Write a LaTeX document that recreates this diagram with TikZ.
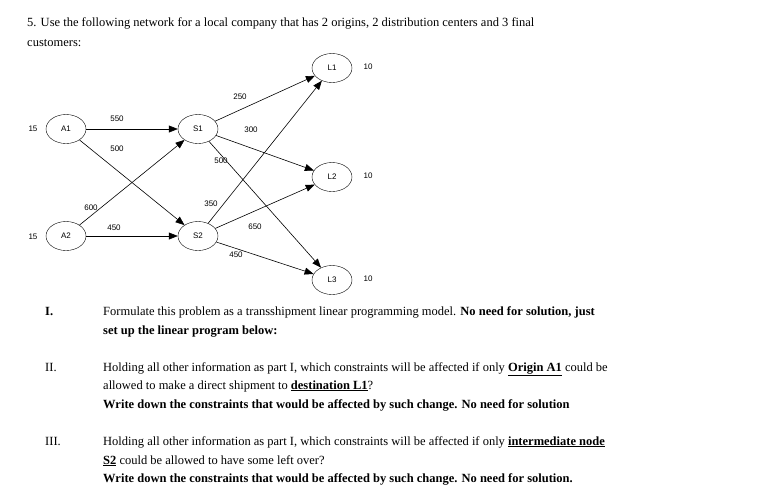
\documentclass[tikz,border=0pt]{standalone}
\usepackage{fontspec}
\setmainfont{Liberation Serif}
\newfontfamily\arial{Liberation Sans}
\usetikzlibrary{arrows.meta,shapes.geometric}
\begin{document}
\begin{tikzpicture}[x=1pt,y=-1pt,
 nd/.style={draw,ellipse,minimum width=40pt,minimum height=29pt,inner sep=0pt,font=\arial\fontsize{8}{9}\selectfont},
 lab/.style={font=\arial\fontsize{8}{9}\selectfont,inner sep=1pt},
 arr/.style={-{Triangle[length=9pt,width=7pt]},line width=0.6pt},
 tx/.style={anchor=base west,inner sep=0pt,font=\fontsize{12.5}{14}\selectfont}]
\useasboundingbox (0,0) rectangle (773,499);
\node[nd] (A1) at (66,129) {A1};
\node[nd] (A2) at (66,236) {A2};
\node[nd] (S1) at (198,129) {S1};
\node[nd] (S2) at (198,236) {S2};
\node[nd] (L1) at (332,68) {L1};
\node[nd] (L2) at (332,177) {L2};
\node[nd] (L3) at (332,280) {L3};
\node[lab] (s1) at (33,129) {15};
\node[lab] (s2) at (33,237) {15};
\node[lab] (d1) at (368,67) {10};
\node[lab] (d2) at (368,176) {10};
\node[lab] (d3) at (368,279) {10};
\draw[arr] (A1) -- (S1);
\draw[arr] (A1) -- (S2);
\draw[arr] (A2) -- (S1);
\draw[arr] (A2) -- (S2);
\draw[arr] (S1) -- (L1);
\draw[arr] (S1) -- (L2);
\draw[arr] (S1) -- (L3);
\draw[arr] (S2) -- (L1);
\draw[arr] (S2) -- (L2);
\draw[arr] (S2) -- (L3);
\node[lab] (c1) at (117,119) {550};
\node[lab] (c2) at (117,149) {500};
\node[lab] (c3) at (91,208) {600};
\node[lab] (c4) at (114,228) {450};
\node[lab] (c5) at (240,97) {250};
\node[lab] (c6) at (251,130) {300};
\node[lab] (c7) at (221,161) {500};
\node[lab] (c8) at (211,204) {350};
\node[lab] (c9) at (255,227) {650};
\node[lab] (c10) at (236,255) {450};
\node[tx] (t1) at (27,26) {5. Use the following network for a local company that has 2 origins, 2 distribution centers and 3 final};
\node[tx] (t2) at (27,46) {customers:};
\node[tx] (n1) at (45,315) {\textbf{I.}};
\node[tx] (l1) at (103,315) {Formulate this problem as a transshipment linear programming model. \textbf{No need for solution, just}};
\node[tx] (l2) at (103,334) {\textbf{set up the linear program below:}};
\node[tx] (n2) at (45,371) {II.};
\node[tx] (l3) at (103,371) {Holding all other information as part I, which constraints will be affected if only \textbf{\underline{Origin A1}} could be};
\node[tx] (l4) at (103,389) {allowed to make a direct shipment to \textbf{\underline{destination L1}}?};
\node[tx] (l5) at (103,408) {\textbf{Write down the constraints that would be affected by such change. No need for solution}};
\node[tx] (n3) at (45,445) {III.};
\node[tx] (l6) at (103,445) {Holding all other information as part I, which constraints will be affected if only \textbf{\underline{intermediate node}}};
\node[tx] (l7) at (103,464) {\textbf{\underline{S2}} could be allowed to have some left over?};
\node[tx] (l8) at (103,482) {\textbf{Write down the constraints that would be affected by such change. No need for solution.}};
\end{tikzpicture}
\end{document}
